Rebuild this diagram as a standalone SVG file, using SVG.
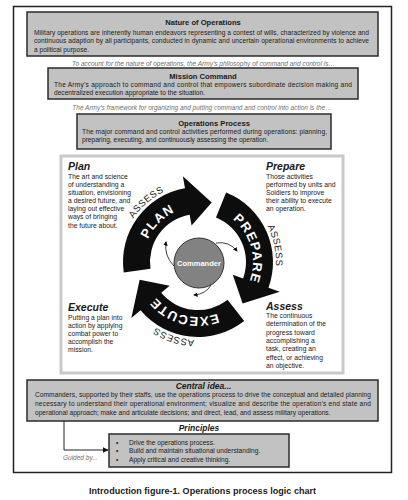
<svg xmlns="http://www.w3.org/2000/svg" width="408" height="500" viewBox="0 0 408 500">
<style>
text{font-family:"Liberation Sans",Arial,sans-serif;fill:#1a1a1a}
.box{fill:#c2c2c2;stroke:#2b2b2b;stroke-width:1.5}
.t{font-weight:bold;font-size:7.6px;text-anchor:middle}
.b{font-size:6.6px}
.it{font-style:italic;font-size:6.5px;fill:#707070;text-anchor:middle}
.h{font-weight:bold;font-style:italic;font-size:10.5px}
.c{font-size:6.8px}
.seg{fill:#0d0d0d}
.lbl{font-weight:bold;font-size:13px;fill:#fff;letter-spacing:1px}
.as{font-size:9.5px;letter-spacing:0.6px}
.thin{fill:none;stroke:#111;stroke-width:0.8}
.line{fill:none;stroke:#222;stroke-width:1}
</style>
<defs>
<marker id="arr" viewBox="0 0 10 10" refX="9" refY="5" markerWidth="6" markerHeight="6" orient="auto" markerUnits="userSpaceOnUse"><path d="M0,0 L10,5 L0,10 z" fill="#111"/></marker>
<marker id="sm" viewBox="0 0 10 10" refX="8" refY="5" markerWidth="4.5" markerHeight="4.5" orient="auto" markerUnits="userSpaceOnUse"><path d="M0,0 L10,5 L0,10 z" fill="#111"/></marker>
<path id="seg" d="M123.73,272.44 A75,75 0 0 1 184.98,188.14 L182.89,176.32 L211.72,202.56 L191.57,225.56 L189.66,214.73 A48,48 0 0 0 150.47,268.68 Z"/>
<path id="lblArc" d="M144.87,276.24 A55,55 0 0 1 212.24,208.87"/>
<path id="asArc" d="M121.70,278.22 A78,78 0 0 1 222.10,187.82"/>
</defs>
<rect width="408" height="500" fill="#fff"/>
<rect x="13.5" y="6.5" width="378" height="466" fill="none" stroke="#222" stroke-width="1.5"/>

<g id="nature-of-operations">
<rect class="box" x="27" y="12" width="351" height="44"/>
<text class="t" x="203" y="25">Nature of Operations</text>
<text class="b" x="34" y="34.5" textLength="335" lengthAdjust="spacing">Military operations are inherently human endeavors representing a contest of wills, characterized by violence and</text>
<text class="b" x="34" y="43" textLength="335" lengthAdjust="spacing">continuous adaption by all participants, conducted in dynamic and uncertain operational environments to achieve</text>
<text class="b" x="34" y="51.5">a political purpose.</text>
</g>
<text class="it" x="203.5" y="65.5">To account for the nature of operations, the Army’s philosophy of command and control is…</text>

<g id="mission-command">
<rect class="box" x="48" y="68" width="310" height="31"/>
<text class="t" x="203" y="78.5">Mission Command</text>
<text class="b" x="54" y="87" textLength="298" lengthAdjust="spacing">The Army’s approach to command and control that empowers subordinate decision making and</text>
<text class="b" x="54" y="95">decentralized execution appropriate to the situation.</text>
</g>
<text class="it" x="202" y="109.5">The Army’s framework for organizing and putting command and control into action is the…</text>

<g id="operations-process">
<rect class="box" x="77" y="114" width="254" height="35"/>
<text class="t" x="214" y="125.5">Operations Process</text>
<text class="b" x="82" y="133.5" textLength="245" lengthAdjust="spacing">The major command and control activities performed during operations: planning,</text>
<text class="b" x="82" y="141.5">preparing, executing, and continuously assessing the operation.</text>
</g>

<g id="operations-cycle">
<rect x="61" y="156" width="282" height="217" fill="#fff" stroke="#c9c9c9" stroke-width="3"/>
<g id="plan">
<use href="#seg" class="seg"/>
<text class="lbl"><textPath href="#lblArc" startOffset="50%" text-anchor="middle">PLAN</textPath></text>
<text class="as"><textPath href="#asArc" startOffset="51%" text-anchor="middle">ASSESS</textPath></text>
<text class="h" x="68" y="170">Plan</text>
<text class="c" x="68" y="178.5">The art and science</text>
<text class="c" x="68" y="186.5">of understanding a</text>
<text class="c" x="68" y="194.5">situation, envisioning</text>
<text class="c" x="68" y="203">a desired future, and</text>
<text class="c" x="68" y="211">laying out effective</text>
<text class="c" x="68" y="219">ways of bringing</text>
<text class="c" x="68" y="227.5">the future about.</text>
</g>
<g id="prepare">
<use href="#seg" class="seg" transform="rotate(120 198 262)"/>
<text class="lbl" transform="rotate(120 198 262)"><textPath href="#lblArc" startOffset="50%" text-anchor="middle">PREPARE</textPath></text>
<text class="as" transform="rotate(120 198 262)"><textPath href="#asArc" startOffset="50%" text-anchor="middle">ASSESS</textPath></text>
<text class="h" x="266" y="170">Prepare</text>
<text class="c" x="266" y="178.5">Those activities</text>
<text class="c" x="266" y="186.5">performed by units and</text>
<text class="c" x="266" y="194.5">Soldiers to improve</text>
<text class="c" x="266" y="203">their ability to execute</text>
<text class="c" x="266" y="211">an operation.</text>
</g>
<g id="execute">
<use href="#seg" class="seg" transform="rotate(240 198 262)"/>
<text class="lbl" transform="rotate(240 198 262)"><textPath href="#lblArc" startOffset="50%" text-anchor="middle">EXECUTE</textPath></text>
<text class="as" transform="rotate(240 198 262)"><textPath href="#asArc" startOffset="50%" text-anchor="middle">ASSESS</textPath></text>
<text class="h" x="68" y="311">Execute</text>
<text class="c" x="68" y="319.5">Putting a plan into</text>
<text class="c" x="68" y="327.5">action by applying</text>
<text class="c" x="68" y="335.5">combat power to</text>
<text class="c" x="68" y="343.5">accomplish the</text>
<text class="c" x="68" y="351.5">mission.</text>
</g>
<g id="assess">
<text class="h" x="266" y="310">Assess</text>
<text class="c" x="266" y="318">The continuous</text>
<text class="c" x="266" y="326.3">determination of the</text>
<text class="c" x="266" y="334.6">progress toward</text>
<text class="c" x="266" y="342.9">accomplishing a</text>
<text class="c" x="266" y="351.2">task, creating an</text>
<text class="c" x="266" y="359.5">effect, or achieving</text>
<text class="c" x="266" y="367.8">an objective.</text>
</g>
<g id="commander">
<circle cx="199" cy="263" r="25" fill="#828282" stroke="#333" stroke-width="1"/>
<text x="199" y="265.8" text-anchor="middle" font-weight="bold" font-size="7.5" style="fill:#fff">Commander</text>
</g>
</g>

<g id="central-idea">
<rect class="box" x="27" y="380" width="351" height="41"/>
<text class="h" x="203.5" y="389" text-anchor="middle" style="font-size:8.5px">Central idea...</text>
<text class="b" x="35" y="397" textLength="336" lengthAdjust="spacing">Commanders, supported by their staffs, use the operations process to drive the conceptual and detailed planning</text>
<text class="b" x="35" y="405.6" textLength="336" lengthAdjust="spacing">necessary to understand their operational environment; visualize and describe the operation’s end state and</text>
<text class="b" x="35" y="414.5">operational approach; make and articulate decisions; and direct, lead, and assess military operations.</text>
</g>

<g id="principles">
<text class="h" x="199" y="431" text-anchor="middle" style="font-size:8.5px">Principles</text>
<rect class="box" x="109" y="434" width="180" height="33"/>
<text class="b" x="116" y="444.5">•</text>
<text class="b" x="129" y="444.5">Drive the operations process.</text>
<text class="b" x="116" y="453">•</text>
<text class="b" x="129" y="453">Build and maintain situational understanding.</text>
<text class="b" x="116" y="461.5">•</text>
<text class="b" x="129" y="461.5">Apply critical and creative thinking.</text>
</g>

<g id="connectors">
<path class="line" d="M64,421 V450 H108" marker-end="url(#arr)"/>
<text class="it" x="63" y="459.5" style="text-anchor:start">Guided by...</text>
<path class="thin" d="M174,266 Q164,256 166,242" marker-end="url(#sm)"/>
<path class="thin" d="M216,243 Q229,241 237,251" marker-end="url(#sm)"/>
<path class="thin" d="M211,285 Q206,294 194,295" marker-end="url(#sm)"/>
</g>

<text x="202.5" y="494" text-anchor="middle" font-weight="bold" font-size="9" textLength="227" lengthAdjust="spacing">Introduction figure-1. Operations process logic chart</text>
</svg>
